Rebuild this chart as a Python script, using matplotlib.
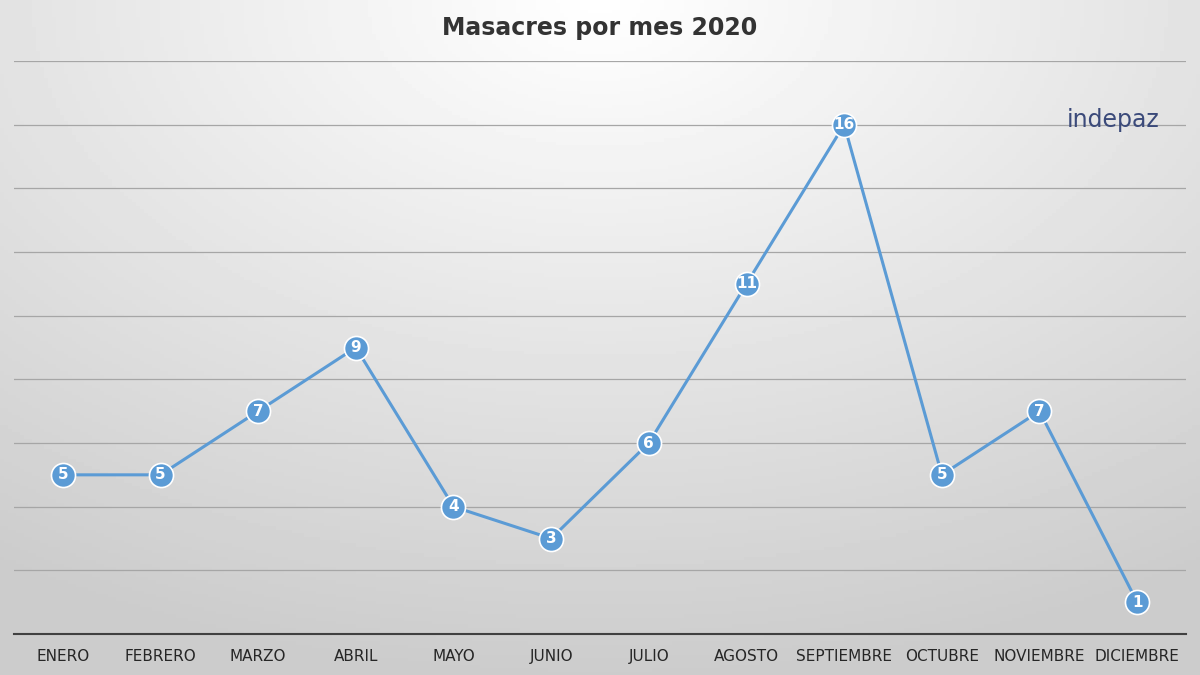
import matplotlib
matplotlib.use("Agg")
import matplotlib.pyplot as plt
import numpy as np

months = ["ENERO","FEBRERO","MARZO","ABRIL","MAYO","JUNIO","JULIO","AGOSTO",
          "SEPTIEMBRE","OCTUBRE","NOVIEMBRE","DICIEMBRE"]
values = [5,5,7,9,4,3,6,11,16,5,7,1]
title = "Masacres por mes 2020"

fig = plt.figure(figsize=(12,6.75), dpi=100)
bg = fig.add_axes([0,0,1,1], zorder=-10)
yy, xx = np.mgrid[0:1:200j, 0:1:300j]
r = np.sqrt(((xx-0.5)*1.0)**2 + ((yy-0.0)*0.9)**2)
bg.imshow(1-0.2*np.clip(r/0.9,0,1), cmap="gray", vmin=0, vmax=1, aspect="auto",
          extent=[0,1,0,1], origin="upper")
bg.axis("off")

ax = fig.add_axes([14/1200, 1-634/675, 1172/1200, (634-61)/675])
ax.patch.set_alpha(0)
x = np.arange(len(months))
ax.set_xlim(-0.5, len(months)-0.5)
ax.set_ylim(0, 18)
for v in range(2, 19, 2):
    ax.axhline(v, color="#a6a6a6", lw=0.9, zorder=0)
color = "#5b9bd5"
ax.plot(x, values, color=color, lw=2.2, zorder=2)
ax.scatter(x, values, s=300, color=color, edgecolor="white", linewidth=1.2, zorder=3)
for xi, v in zip(x, values):
    ax.text(xi, v, str(v), ha="center", va="center", color="white",
            fontsize=11, fontweight="bold", zorder=4)
for s in ["top","right","left"]:
    ax.spines[s].set_visible(False)
ax.spines["bottom"].set_color("#404040")
ax.spines["bottom"].set_linewidth(1.5)
ax.set_yticks([])
ax.set_xticks(x)
ax.set_xticklabels(months, fontsize=11, color="#262626")
ax.tick_params(axis="x", length=0, pad=11)
fig.text(0.5, 1-28/675, title, ha="center", va="center", fontsize=17,
         fontweight="bold", color="#333333")
fig.text(1113/1200, 1-120/675, "indepaz", ha="center", va="center",
         fontsize=17, color="#3b4a7a")
fig.savefig("out.png", dpi=100)
